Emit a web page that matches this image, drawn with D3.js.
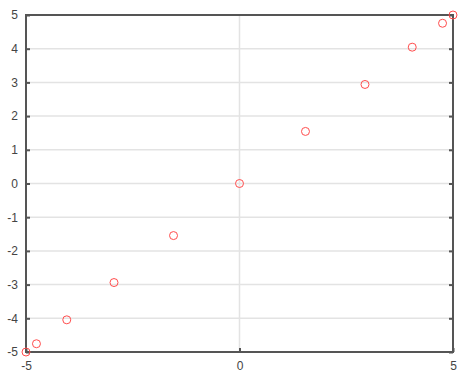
<!DOCTYPE html>
<html>
<head>
<meta charset="utf-8">
<script src="https://cdn.jsdelivr.net/npm/d3@7"></script>
<style>
  body { margin: 0; background: #fff; }
  text { font-family: "Liberation Sans", Arial, sans-serif; }
</style>
</head>
<body>
<script>
    //Width and height
    var w = 465;
    var h = 378;
    var margin = {top: 15, right: 12, bottom: 26, left: 26};

    //Data
    var xValues = [-5, -4.755, -4.045, -2.939, -1.545, 0, 1.545, 2.939, 4.045, 4.755, 5];
    var yValues = [-5, -4.755, -4.045, -2.939, -1.545, 0, 1.545, 2.939, 4.045, 4.755, 5];
    var xTicks = [-5, 0, 5];
    var yTicks = [-5, -4, -3, -2, -1, 0, 1, 2, 3, 4, 5];

    var svg = d3.select("body")
                .append("svg")
                .attr("width", w)
                .attr("height", h);

    var x = d3.scaleLinear().domain([-5, 5]).range([margin.left, w - margin.right]);
    var y = d3.scaleLinear().domain([-5, 5]).range([h - margin.bottom, margin.top]);

    //grid lines
    svg.append("g")
       .selectAll("line")
       .data(yTicks)
       .enter()
       .append("line")
       .attr("x1", x(-5))
       .attr("x2", x(5))
       .attr("y1", function(d) { return y(d); })
       .attr("y2", function(d) { return y(d); })
       .attr("stroke", "#e3e3e3")
       .attr("stroke-width", 1.5);

    svg.append("line")
       .attr("x1", x(0))
       .attr("x2", x(0))
       .attr("y1", y(-5))
       .attr("y2", y(5))
       .attr("stroke", "#e3e3e3")
       .attr("stroke-width", 1.5);

    //axes: inner ticks, plain hyphen for minus
    var fmt = function(d) { return String(d); };
    var leftAxis = d3.axisLeft(y).tickValues(yTicks).tickSize(-4).tickPadding(8).tickFormat(fmt);
    var rightAxis = d3.axisRight(y).tickValues(yTicks).tickSize(-4).tickFormat("");
    var bottomAxis = d3.axisBottom(x).tickValues(xTicks).tickSize(-4).tickPadding(9).tickFormat(fmt);

    function styleAxis(g) {
        g.select(".domain").remove();
        g.selectAll("line").attr("stroke", "#555").attr("stroke-width", 2);
        g.selectAll("text").attr("fill", "#444").style("font-size", "12px");
    }

    svg.append("g").attr("transform", "translate(" + x(-5) + ",0)").call(leftAxis).call(styleAxis);
    svg.append("g").attr("transform", "translate(" + x(5) + ",0)").call(rightAxis).call(styleAxis);
    svg.append("g").attr("transform", "translate(0," + y(-5) + ")").call(bottomAxis).call(styleAxis);

    //frame
    svg.append("rect")
       .attr("x", x(-5))
       .attr("y", y(5))
       .attr("width", x(5) - x(-5))
       .attr("height", y(-5) - y(5))
       .attr("fill", "none")
       .attr("stroke", "#555")
       .attr("stroke-width", 2);

    //points
    svg.append("g")
       .selectAll("circle")
       .data(xValues)
       .enter()
       .append("circle")
       .attr("cx", function(d) { return x(d); })
       .attr("cy", function(d, i) { return y(yValues[i]); })
       .attr("r", 4)
       .attr("fill", "none")
       .attr("stroke", "#ff4d4d")
       .attr("stroke-width", 1);
</script>
</body>
</html>
